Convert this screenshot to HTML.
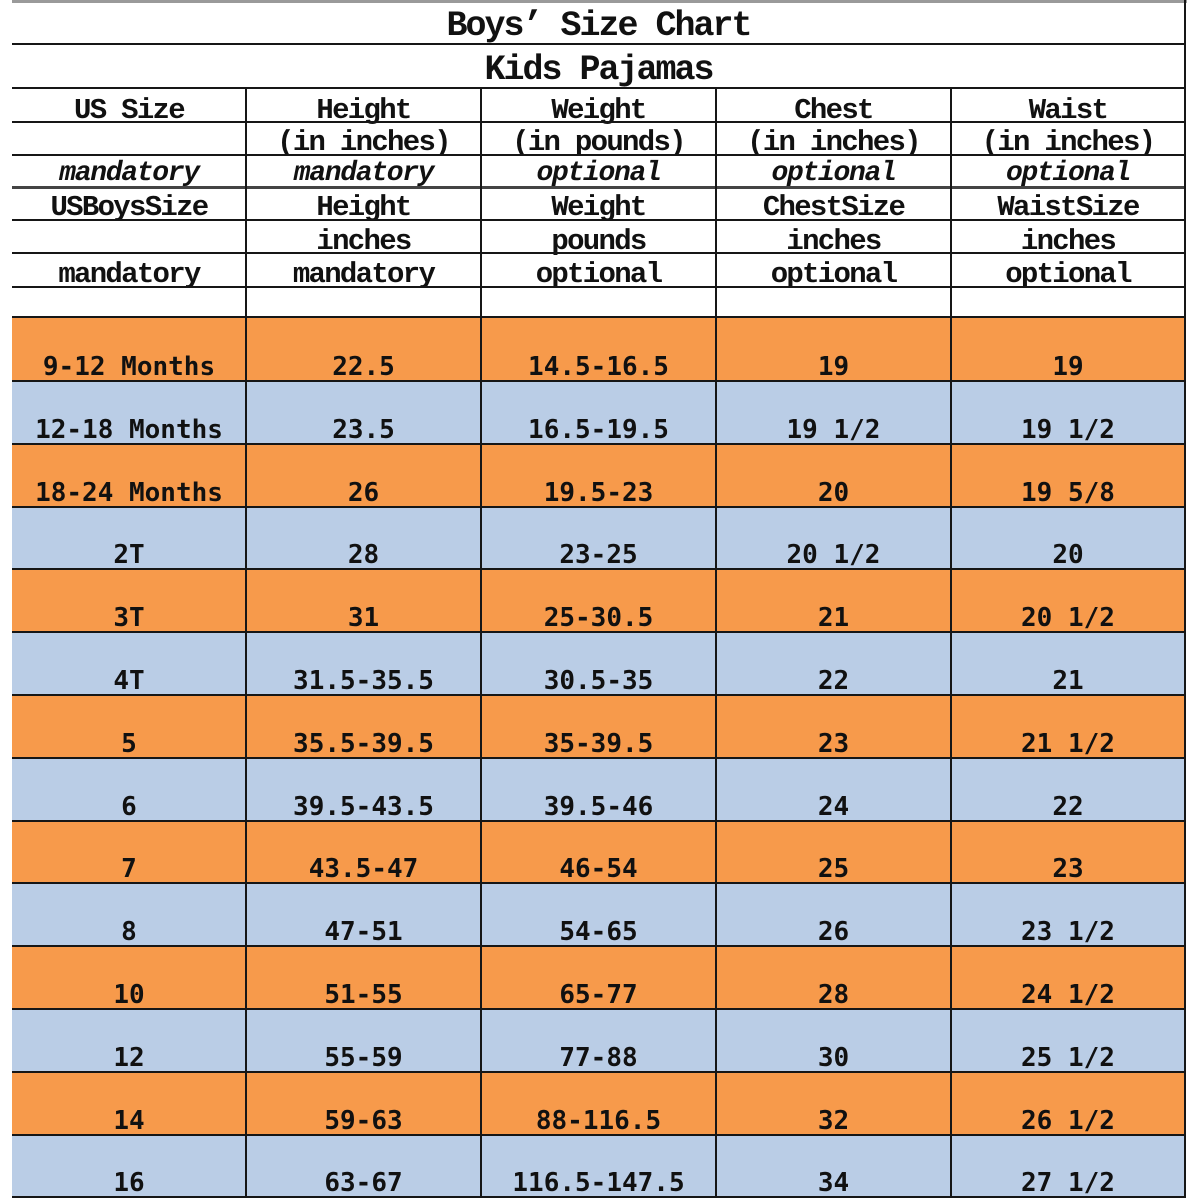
<!DOCTYPE html>
<html>
<head>
<meta charset="utf-8">
<style>
html,body{margin:0;padding:0;background:#fff;}
body{width:1200px;height:1200px;position:relative;overflow:hidden;color:#111;}
.hl{position:absolute;left:12px;width:1173px;height:2px;background:#161616;}
.vl{position:absolute;width:2px;background:#161616;}
.t{position:absolute;text-align:center;white-space:nowrap;}
.title{font-family:"Liberation Mono",monospace;font-weight:bold;font-size:35px;line-height:35px;letter-spacing:-2px;left:12px;width:1173px;}
.h{font-family:"Liberation Mono",monospace;font-weight:bold;font-size:29px;line-height:29px;letter-spacing:-1.7px;}
.hi{font-family:"Liberation Mono",monospace;font-style:italic;font-weight:bold;font-size:28px;line-height:28px;letter-spacing:-1.3px;}
.c1{left:12px;width:234px;}
.c2{left:246px;width:235px;}
.c3{left:481px;width:235px;}
.c4{left:716px;width:235px;}
.c5{left:951px;width:234px;}
.row{position:absolute;left:12px;width:1173px;}
.o{background:#f79a4b;}
.b{background:#bacde6;}
.row div{position:absolute;top:36px;text-align:center;white-space:nowrap;font-family:"DejaVu Sans Mono","Liberation Mono",monospace;font-weight:bold;font-size:26px;line-height:26px;}
.d1{left:0;width:234px;}
.d2{left:234px;width:235px;}
.d3{left:469px;width:235px;}
.d4{left:704px;width:235px;}
.d5{left:939px;width:234px;}
</style>
</head>
<body>
<!-- top gray line -->
<div style="position:absolute;left:12px;top:0;width:1175px;height:3px;background:#9a9a9a;"></div>

<!-- data rows backgrounds & text -->
<div class="row o" style="top:318px;height:63px;"><div class="d1">9-12 Months</div><div class="d2">22.5</div><div class="d3">14.5-16.5</div><div class="d4">19</div><div class="d5">19</div></div>
<div class="row b" style="top:380.8px;height:63px;"><div class="d1">12-18 Months</div><div class="d2">23.5</div><div class="d3">16.5-19.5</div><div class="d4">19 1/2</div><div class="d5">19 1/2</div></div>
<div class="row o" style="top:443.6px;height:63px;"><div class="d1">18-24 Months</div><div class="d2">26</div><div class="d3">19.5-23</div><div class="d4">20</div><div class="d5">19 5/8</div></div>
<div class="row b" style="top:506.4px;height:63px;"><div class="d1">2T</div><div class="d2">28</div><div class="d3">23-25</div><div class="d4">20 1/2</div><div class="d5">20</div></div>
<div class="row o" style="top:569.2px;height:63px;"><div class="d1">3T</div><div class="d2">31</div><div class="d3">25-30.5</div><div class="d4">21</div><div class="d5">20 1/2</div></div>
<div class="row b" style="top:632px;height:63px;"><div class="d1">4T</div><div class="d2">31.5-35.5</div><div class="d3">30.5-35</div><div class="d4">22</div><div class="d5">21</div></div>
<div class="row o" style="top:694.8px;height:63px;"><div class="d1">5</div><div class="d2">35.5-39.5</div><div class="d3">35-39.5</div><div class="d4">23</div><div class="d5">21 1/2</div></div>
<div class="row b" style="top:757.6px;height:63px;"><div class="d1">6</div><div class="d2">39.5-43.5</div><div class="d3">39.5-46</div><div class="d4">24</div><div class="d5">22</div></div>
<div class="row o" style="top:820.4px;height:63px;"><div class="d1">7</div><div class="d2">43.5-47</div><div class="d3">46-54</div><div class="d4">25</div><div class="d5">23</div></div>
<div class="row b" style="top:883.2px;height:63px;"><div class="d1">8</div><div class="d2">47-51</div><div class="d3">54-65</div><div class="d4">26</div><div class="d5">23 1/2</div></div>
<div class="row o" style="top:946px;height:63px;"><div class="d1">10</div><div class="d2">51-55</div><div class="d3">65-77</div><div class="d4">28</div><div class="d5">24 1/2</div></div>
<div class="row b" style="top:1008.8px;height:63px;"><div class="d1">12</div><div class="d2">55-59</div><div class="d3">77-88</div><div class="d4">30</div><div class="d5">25 1/2</div></div>
<div class="row o" style="top:1071.6px;height:63px;"><div class="d1">14</div><div class="d2">59-63</div><div class="d3">88-116.5</div><div class="d4">32</div><div class="d5">26 1/2</div></div>
<div class="row b" style="top:1134.4px;height:63px;"><div class="d1">16</div><div class="d2">63-67</div><div class="d3">116.5-147.5</div><div class="d4">34</div><div class="d5">27 1/2</div></div>

<!-- titles -->
<div class="t title" style="top:9px;">Boys’ Size Chart</div>
<div class="t title" style="top:53px;">Kids Pajamas</div>

<!-- header row texts -->
<div class="t h c1" style="top:96px;">US Size</div>
<div class="t h c2" style="top:96px;">Height</div>
<div class="t h c3" style="top:96px;">Weight</div>
<div class="t h c4" style="top:96px;">Chest</div>
<div class="t h c5" style="top:96px;">Waist</div>

<div class="t h c2" style="top:128px;">(in inches)</div>
<div class="t h c3" style="top:128px;">(in pounds)</div>
<div class="t h c4" style="top:128px;">(in inches)</div>
<div class="t h c5" style="top:128px;">(in inches)</div>

<div class="t hi c1" style="top:160px;">mandatory</div>
<div class="t hi c2" style="top:160px;">mandatory</div>
<div class="t hi c3" style="top:160px;">optional</div>
<div class="t hi c4" style="top:160px;">optional</div>
<div class="t hi c5" style="top:160px;">optional</div>

<div class="t h c1" style="top:193px;">USBoysSize</div>
<div class="t h c2" style="top:193px;">Height</div>
<div class="t h c3" style="top:193px;">Weight</div>
<div class="t h c4" style="top:193px;">ChestSize</div>
<div class="t h c5" style="top:193px;">WaistSize</div>

<div class="t h c2" style="top:227px;">inches</div>
<div class="t h c3" style="top:227px;">pounds</div>
<div class="t h c4" style="top:227px;">inches</div>
<div class="t h c5" style="top:227px;">inches</div>

<div class="t h c1" style="top:260px;">mandatory</div>
<div class="t h c2" style="top:260px;">mandatory</div>
<div class="t h c3" style="top:260px;">optional</div>
<div class="t h c4" style="top:260px;">optional</div>
<div class="t h c5" style="top:260px;">optional</div>

<!-- horizontal lines -->
<div class="hl" style="top:43px;"></div>
<div class="hl" style="top:87px;"></div>
<div class="hl" style="top:121px;"></div>
<div class="hl" style="top:154px;"></div>
<div class="hl" style="top:186px;background:#444;height:3px;"></div>
<div class="hl" style="top:219px;"></div>
<div class="hl" style="top:252px;"></div>
<div class="hl" style="top:286px;"></div>
<div class="hl" style="top:316px;"></div>
<div class="hl" style="top:380px;"></div>
<div class="hl" style="top:442.8px;"></div>
<div class="hl" style="top:505.6px;"></div>
<div class="hl" style="top:568.4px;"></div>
<div class="hl" style="top:631.2px;"></div>
<div class="hl" style="top:694px;"></div>
<div class="hl" style="top:756.8px;"></div>
<div class="hl" style="top:819.6px;"></div>
<div class="hl" style="top:882.4px;"></div>
<div class="hl" style="top:945.2px;"></div>
<div class="hl" style="top:1008px;"></div>
<div class="hl" style="top:1070.8px;"></div>
<div class="hl" style="top:1133.6px;"></div>
<div class="hl" style="top:1196px;"></div>

<!-- vertical lines -->
<div class="vl" style="left:245px;top:88px;height:1110px;"></div>
<div class="vl" style="left:480px;top:88px;height:1110px;"></div>
<div class="vl" style="left:715px;top:88px;height:1110px;"></div>
<div class="vl" style="left:950px;top:88px;height:1110px;"></div>
<div class="vl" style="left:1184px;top:0px;height:1198px;"></div>
</body>
</html>
